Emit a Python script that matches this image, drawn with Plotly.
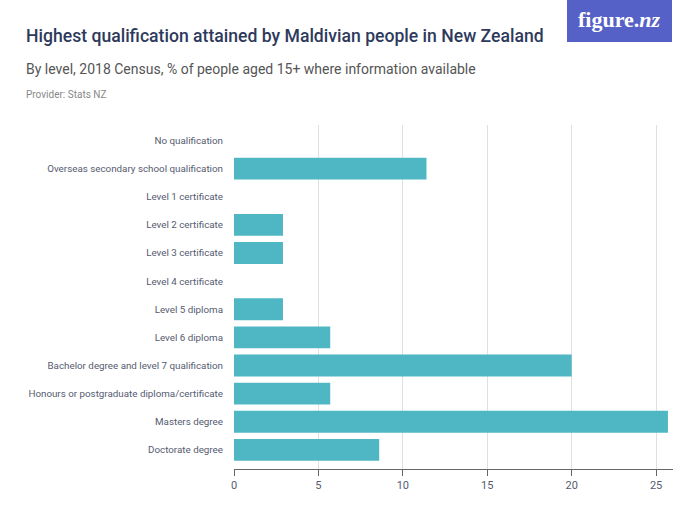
import plotly.graph_objects as go

categories = [
    "No qualification",
    "Overseas secondary school qualification",
    "Level 1 certificate",
    "Level 2 certificate",
    "Level 3 certificate",
    "Level 4 certificate",
    "Level 5 diploma",
    "Level 6 diploma",
    "Bachelor degree and level 7 qualification",
    "Honours or postgraduate diploma/certificate",
    "Masters degree",
    "Doctorate degree",
]
values = [0, 11.4, 0, 2.9, 2.9, 0, 2.9, 5.7, 20.0, 5.7, 25.7, 8.6]
x_ticks = [0, 5, 10, 15, 20, 25]

TEXT = "#555b70"
NAVY = "#2e3a5c"
L, R, T, B = 234, 27, 125, 56
W, H = 700, 525

fig = go.Figure()
fig.add_trace(go.Bar(
    x=values, y=categories, orientation="h",
    marker=dict(color="#4fb7c4", line=dict(width=0)),
    hoverinfo="x+y",
))

fig.update_layout(
    width=W, height=H,
    margin=dict(l=L, r=R, t=T, b=B, autoexpand=False),
    paper_bgcolor="white", plot_bgcolor="white",
    bargap=0.22,
    showlegend=False,
    font=dict(family="Roboto, sans-serif", color=TEXT, size=10),
    xaxis=dict(
        range=[0, 26], tickvals=x_ticks, ticktext=[str(t) for t in x_ticks],
        showgrid=True, gridcolor="#e0e0e0", gridwidth=1,
        zeroline=False, showline=True, linecolor="#666", linewidth=1,
        ticks="outside", ticklen=6, tickcolor="#666",
        tickfont=dict(size=11, color=TEXT),
        fixedrange=True, automargin=False,
    ),
    yaxis=dict(
        categoryorder="array", categoryarray=categories,
        autorange=False, range=[11.68, -0.55],
        showgrid=False, zeroline=False, showline=False,
        ticks="", ticklabelstandoff=10,
        tickfont=dict(size=9.8, color=TEXT),
        fixedrange=True, automargin=False,
    ),
)

def px_to_paper_x(px):
    return (px - L) / (W - L - R)

def px_to_paper_y(py):
    return (H - B - py) / (H - T - B)

fig.add_annotation(
    text="Highest qualification attained by Maldivian people in New Zealand",
    xref="paper", yref="paper", x=px_to_paper_x(24), xanchor="left",
    y=px_to_paper_y(36), yanchor="middle", showarrow=False,
    font=dict(family="Roboto, sans-serif", size=17.6, color=NAVY, weight=500),
)
fig.add_annotation(
    text="By level, 2018 Census, % of people aged 15+ where information available",
    xref="paper", yref="paper", x=px_to_paper_x(24), xanchor="left",
    y=px_to_paper_y(69), yanchor="middle", showarrow=False,
    font=dict(family="Roboto, sans-serif", size=14, color="#555"),
)
fig.add_annotation(
    text="Provider: Stats NZ",
    xref="paper", yref="paper", x=px_to_paper_x(24), xanchor="left",
    y=px_to_paper_y(94), yanchor="middle", showarrow=False,
    font=dict(family="Roboto, sans-serif", size=10, color="#888"),
)
# logo
fig.add_shape(
    type="rect", xref="paper", yref="paper",
    x0=px_to_paper_x(567), x1=px_to_paper_x(672),
    y0=px_to_paper_y(42), y1=px_to_paper_y(0),
    fillcolor="#5561c6", line=dict(width=0), layer="above",
)
fig.add_annotation(
    text="figure.<i>nz</i>",
    xref="paper", yref="paper", x=px_to_paper_x(619.5), xanchor="center",
    y=px_to_paper_y(20), yanchor="middle", showarrow=False,
    font=dict(family="Liberation Serif, serif", size=22, color="white", weight=700),
)

fig.write_html("out.html")
